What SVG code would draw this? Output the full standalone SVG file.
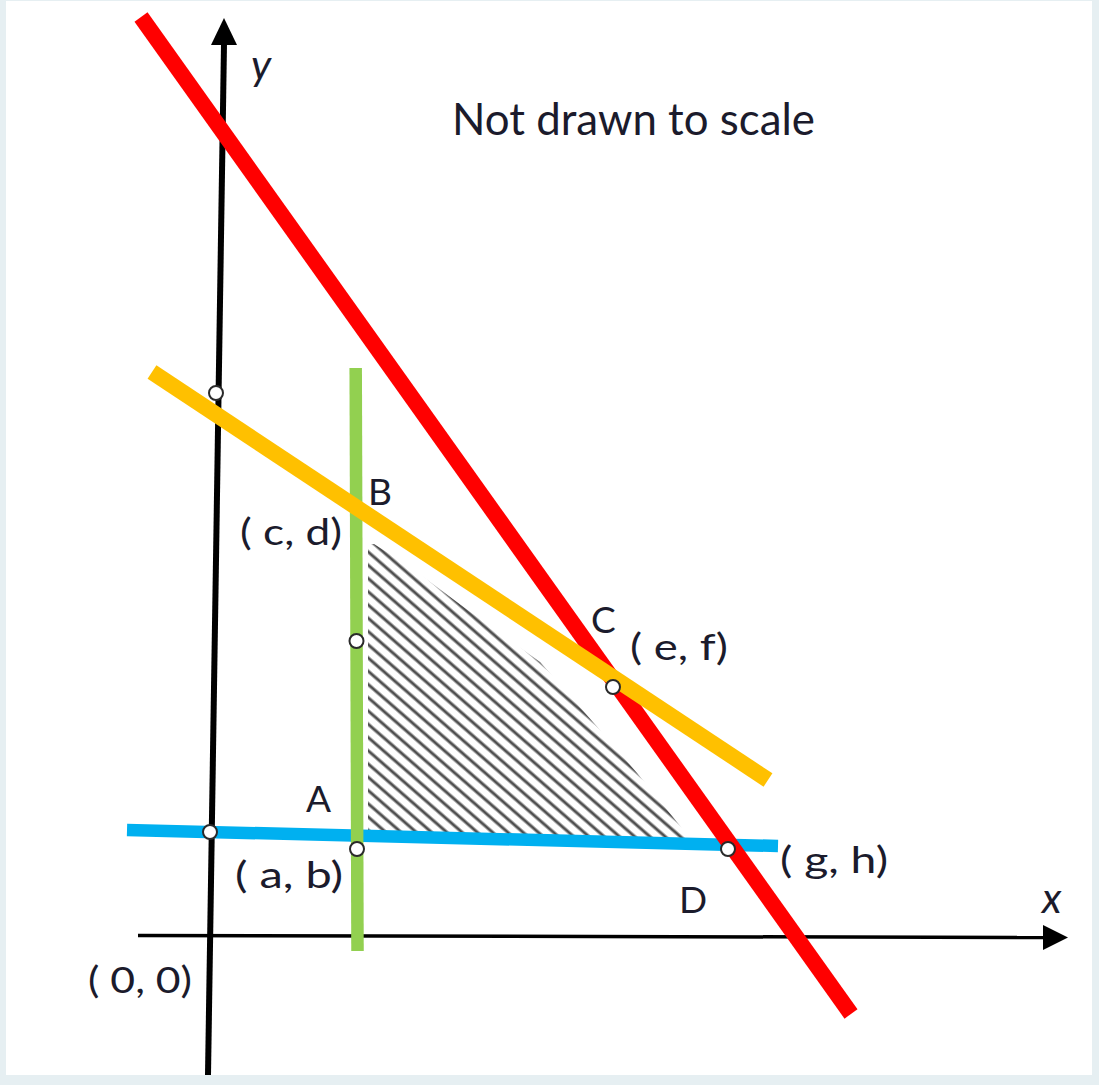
<svg xmlns="http://www.w3.org/2000/svg" width="1099" height="1085" viewBox="0 0 1099 1085">
  <style>
    .lbl { font-family: Lato, "Liberation Sans", sans-serif; font-size: 37px; fill: #1b1b2c; }
    .ttl { font-family: Lato, "Liberation Sans", sans-serif; font-size: 44px; fill: #1b1b2c; }
    .ax { font-family: Lato, "Liberation Sans", sans-serif; font-size: 42px; font-style: italic; fill: #1b1b2c; }
    .pt { fill: #ffffff; stroke: #2a2a2a; stroke-width: 2; }
    .axis { stroke: #000000; fill: none; }
  </style>
  <defs>
    <pattern id="hatch" width="10" height="10" patternUnits="userSpaceOnUse" patternTransform="rotate(41)">
      <line x1="0" y1="5" x2="10" y2="5" stroke="#4f4f4f" stroke-width="3"/>
    </pattern>
  </defs>

  <rect x="0" y="0" width="1099" height="1085" fill="#e6eff2"/>
  <rect x="6" y="1" width="1086" height="1074" fill="#ffffff"/>

  <g id="feasible-region">
    <polygon points="368,544 374,544 410,567 473,614 540,662 600,730 637,773 690,838 368,838" fill="url(#hatch)"/>
  </g>

  <g id="axes">
    <line class="axis" x1="208" y1="1075" x2="224" y2="44" stroke-width="6"/>
    <polygon points="224,18 211,45 237,45" fill="#000"/>
    <line class="axis" x1="138" y1="935.5" x2="1046" y2="937.5" stroke-width="3.5"/>
    <polygon points="1068,937.5 1043,925 1043,950" fill="#000"/>
  </g>

  <g id="connectors">
    <line id="line-blue" x1="127" y1="830" x2="778" y2="846" stroke="#00b0f0" stroke-width="12.5"/>
    <line id="line-green" x1="355.7" y1="368" x2="357.5" y2="951" stroke="#92d050" stroke-width="12.5"/>
    <line id="line-red" x1="141" y1="17" x2="851" y2="1014" stroke="#ff0000" stroke-width="16"/>
    <line id="line-orange" x1="152" y1="372" x2="768" y2="780" stroke="#ffc000" stroke-width="16"/>
  </g>

  <g id="points">
    <circle id="pt-y-orange" class="pt" cx="216" cy="393" r="7"/>
    <circle id="pt-y-blue" class="pt" cx="210" cy="832" r="7"/>
    <circle id="pt-green-mid" class="pt" cx="356.5" cy="641" r="7"/>
    <circle id="pt-A" class="pt" cx="357" cy="849" r="7"/>
    <circle id="pt-C" class="pt" cx="613" cy="687" r="7"/>
    <circle id="pt-D" class="pt" cx="728" cy="849" r="7"/>
  </g>

  <g id="labels">
    <text class="ttl" x="452" y="135" textLength="363" lengthAdjust="spacingAndGlyphs">Not drawn to scale</text>
    <text class="ax" x="251" y="80">y</text>
    <text class="ax" x="1042" y="913">x</text>
    <g id="node-B"><text class="lbl" x="368" y="505">B</text><text class="lbl" x="240" y="545" textLength="102" lengthAdjust="spacingAndGlyphs">( c, d)</text></g>
    <g id="node-C"><text class="lbl" x="591" y="633">C</text><text class="lbl" x="630" y="660" textLength="98" lengthAdjust="spacingAndGlyphs">( e, f)</text></g>
    <g id="node-A"><text class="lbl" x="306" y="812">A</text><text class="lbl" x="235" y="888" textLength="108" lengthAdjust="spacingAndGlyphs">( a, b)</text></g>
    <g id="node-D"><text class="lbl" x="679" y="913">D</text><text class="lbl" x="780" y="873" textLength="108" lengthAdjust="spacingAndGlyphs">( g, h)</text></g>
    <g id="node-O"><text class="lbl" x="88" y="993" textLength="104" lengthAdjust="spacingAndGlyphs">( 0, 0)</text></g>
  </g>
</svg>
